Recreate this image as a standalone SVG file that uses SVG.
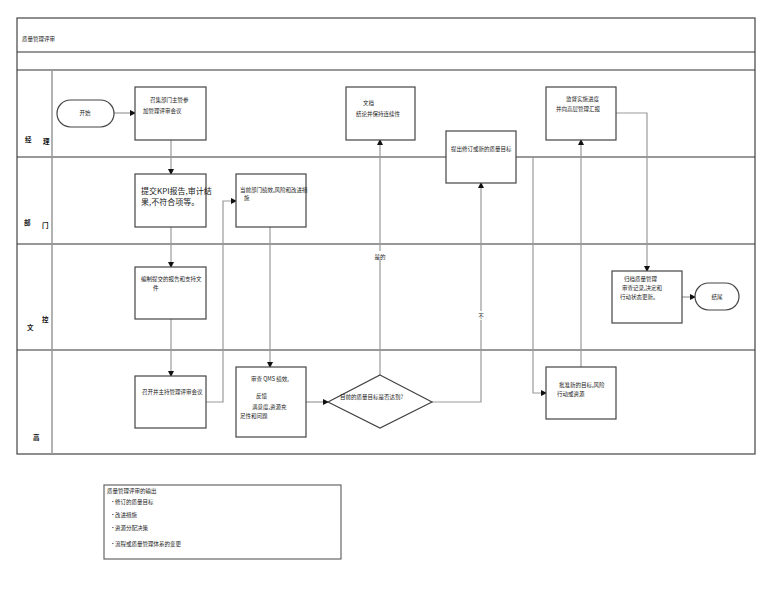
<svg xmlns="http://www.w3.org/2000/svg" width="768" height="594" viewBox="0 0 768 594">
<style>
text{font-family:"Noto Sans CJK SC","Liberation Sans",sans-serif;fill:#222;}
.t{font-size:5.5px;}
.big{font-size:8px;}
.lab{font-size:6.5px;font-weight:bold;fill:#111;}
.box{fill:#fff;stroke:#444;stroke-width:1.2;}
.frame{fill:none;stroke:#444;stroke-width:1.2;}
.lane{stroke:#333;stroke-width:1;}
.col{stroke:#999;stroke-width:1.5;}
.c{fill:none;stroke:#999;stroke-width:1.2;}
</style>
<defs>
<marker id="a" markerWidth="6" markerHeight="6" refX="5" refY="3" orient="auto" markerUnits="userSpaceOnUse">
<path d="M0,0 L6,3 L0,6 z" fill="#111"/>
</marker>
</defs>
<rect width="768" height="594" fill="#fff"/>
<g id="frame">
<rect class="frame" x="17" y="18" width="738" height="436"/>
<line class="lane" x1="17" y1="52" x2="755" y2="52"/>
<line class="lane" x1="17" y1="70" x2="755" y2="70"/>
<line class="lane" x1="17" y1="157" x2="755" y2="157"/>
<line class="lane" x1="17" y1="244" x2="755" y2="244"/>
<line class="lane" x1="17" y1="350" x2="755" y2="350"/>
<line class="col" x1="52" y1="70" x2="52" y2="454"/>
<text class="t" x="22" y="41">质量管理评审</text>
<text class="lab" x="25" y="142">经</text>
<text class="lab" x="43" y="144">理</text>
<text class="lab" x="24" y="225">部</text>
<text class="lab" x="42" y="228">门</text>
<text class="lab" x="27" y="330">文</text>
<text class="lab" x="42" y="322">控</text>
<text class="lab" x="33" y="440">高</text>
</g>
<g id="connectors">
<line class="c" x1="114" y1="113" x2="135" y2="113" marker-end="url(#a)"/>
<line class="c" x1="171" y1="140" x2="171" y2="174" marker-end="url(#a)"/>
<line class="c" x1="171" y1="227" x2="171" y2="267" marker-end="url(#a)"/>
<line class="c" x1="171" y1="319" x2="171" y2="376" marker-end="url(#a)"/>
<polyline class="c" points="206,402 223,402 223,201 236,201" marker-end="url(#a)"/>
<line class="c" x1="270" y1="227" x2="270" y2="367" marker-end="url(#a)"/>
<line class="c" x1="306" y1="402" x2="328" y2="402" marker-end="url(#a)"/>
<line class="c" x1="380" y1="375" x2="380" y2="140" marker-end="url(#a)"/>
<polyline class="c" points="432,402 481,402 481,183" marker-end="url(#a)"/>
<polyline class="c" points="516,157 533,157 533,393 546,393" marker-end="url(#a)"/>
<line class="c" x1="581" y1="367" x2="581" y2="140" marker-end="url(#a)"/>
<polyline class="c" points="616,113 647,113 647,271" marker-end="url(#a)"/>
<line class="c" x1="682" y1="297" x2="695" y2="297" marker-end="url(#a)"/>
<rect x="373" y="251" width="14" height="9" fill="#fff"/>
<text class="t" x="380" y="259" text-anchor="middle">是的</text>
<rect x="476" y="311" width="10" height="9" fill="#fff"/>
<text class="t" x="481" y="318" text-anchor="middle">不</text>
</g>
<g id="start">
<rect class="box" x="57" y="100" width="57" height="27" rx="13.5"/>
<text class="t" x="85" y="115" text-anchor="middle">开始</text>
</g>
<g id="n1">
<rect class="box" x="135" y="87" width="71" height="53"/>
<text class="t" x="150" y="102">召集部门主管参</text>
<text class="t" x="143" y="113">加管理评审会议</text>
</g>
<g id="n2">
<rect class="box" x="135" y="174" width="71" height="53"/>
<text class="big" x="141" y="194">提交KPI报告,审计结</text>
<text class="big" x="141" y="205">果,不符合项等。</text>
</g>
<g id="n3">
<rect class="box" x="135" y="267" width="71" height="52"/>
<text class="t" x="141" y="281">编制提交的报告和支持文</text>
<text class="t" x="153" y="290">件</text>
</g>
<g id="n4">
<rect class="box" x="135" y="376" width="71" height="52"/>
<text class="t" x="142" y="394">召开并主持管理评审会议</text>
</g>
<g id="n5">
<rect class="box" x="236" y="174" width="70" height="53"/>
<text class="t" x="240" y="192">当前部门绩效,风险和改进措</text>
<text class="t" x="244" y="200">施</text>
</g>
<g id="n6">
<rect class="box" x="236" y="367" width="70" height="70"/>
<text class="t" x="251" y="381">审查 QMS 绩效,</text>
<text class="t" x="256" y="398">反馈</text>
<text class="t" x="252" y="409">满意度,资源充</text>
<text class="t" x="240" y="418">足性和问题</text>
</g>
<g id="d1">
<polygon class="box" points="380,375 432,402 380,428 328,402"/>
<text class="t" x="340" y="399">目前的质量目标是否达到?</text>
</g>
<g id="n7">
<rect class="box" x="346" y="87" width="69" height="53"/>
<text class="t" x="363" y="105">文档</text>
<text class="t" x="356" y="116">结论并保持连续性</text>
</g>
<g id="n8">
<rect class="box" x="446" y="131" width="70" height="52"/>
<text class="t" x="451" y="151">提出修订或新的质量目标</text>
</g>
<g id="n9">
<rect class="box" x="546" y="367" width="70" height="52"/>
<text class="t" x="559" y="387">批准新的目标,风险</text>
<text class="t" x="557" y="396">行动或资源</text>
</g>
<g id="n10">
<rect class="box" x="546" y="87" width="70" height="53"/>
<text class="t" x="566" y="101">监督实施进度</text>
<text class="t" x="556" y="111">并向高层管理汇报</text>
</g>
<g id="n11">
<rect class="box" x="612" y="271" width="70" height="52"/>
<text class="t" x="624" y="281">归档质量管理</text>
<text class="t" x="622" y="290">审查记录,决定和</text>
<text class="t" x="620" y="299">行动状态更新。</text>
</g>
<g id="end">
<rect class="box" x="695" y="283" width="44" height="27" rx="13.5"/>
<text class="t" x="717" y="299" text-anchor="middle">结尾</text>
</g>
<g id="legend">
<rect x="104" y="485" width="237" height="74" fill="#fff" stroke="#666" stroke-width="1.2"/>
<text class="t" x="107" y="492.5">质量管理评审的输出</text>
<text class="t" x="110" y="504" fill="#999">·</text><text class="t" x="115" y="504">修订的质量目标</text>
<text class="t" x="110" y="517" fill="#999">·</text><text class="t" x="115" y="517">改进措施</text>
<text class="t" x="110" y="530" fill="#999">·</text><text class="t" x="115" y="530">资源分配决策</text>
<text class="t" x="110" y="546" fill="#999">·</text><text class="t" x="115" y="546">流程或质量管理体系的变更</text>
</g>
</svg>
